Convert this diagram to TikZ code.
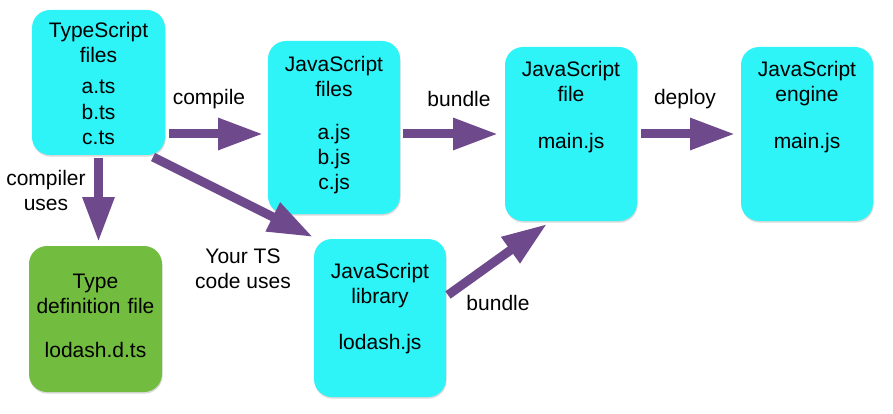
\documentclass[tikz,border=0pt]{standalone}
\usepackage{fontspec}
\setmainfont{Liberation Sans}
\usepackage{tikz}
\usetikzlibrary{arrows.meta,shadows}
\definecolor{boxcyan}{RGB}{46,244,248}
\definecolor{defgreen}{RGB}{114,189,64}
\definecolor{arrowpurple}{RGB}{110,74,140}
\tikzset{
    file box/.style={fill=boxcyan,rounded corners=18pt,inner sep=0pt,outer sep=0pt,
        text width=#1,align=center,anchor=north west,
        drop shadow={shadow xshift=.6pt,shadow yshift=-1.6pt,opacity=.3}},
    file box/.default=132pt,
    fat arrow/.style={-{Triangle[length=45pt,width=30pt]},line width=9pt,draw=arrowpurple},
}
\tikzstyle{every node}=[font=\fontsize{21pt}{25pt}\selectfont]

\begin{document}
\begin{tikzpicture}[x=1pt,y=-1pt]
        \useasboundingbox (0,0) rectangle (893,414);
        \node[file box=133pt, text height=28pt, text depth=117pt] (ts) at (32,10)
            {TypeScript\\files\\[6pt]a.ts\\[1pt]b.ts\\c.ts};
        \node[file box, text height=31pt, text depth=142pt] (jsf) at (268,41)
            {JavaScript\\files\\[18pt]a.js\\b.js\\c.js};
        \node[file box, text height=30pt, text depth=144pt] (main) at (505,47)
            {JavaScript\\file\\[22pt]main.js};
        \node[file box, text height=30pt, text depth=144pt] (eng) at (741,47)
            {JavaScript\\engine\\[22pt]main.js};
        \node[file box=133pt, fill=defgreen, text height=42pt, text depth=104pt] (def) at (29,246)
            {Type\\definition file\\[19pt]lodash.d.ts};
        \node[file box, text height=39pt, text depth=119pt] (lib) at (314,239)
            {JavaScript\\library\\[21pt]lodash.js};
        % arrows between the boxes
        \draw[fat arrow] ([xshift=4pt]ts.east |- main.center) -- ([xshift=-5pt]jsf.west |- main.center);
        \draw[fat arrow] ([xshift=3pt]jsf.east |- main.center) -- ([xshift=-7pt]main.west);
        \draw[fat arrow] ([xshift=4pt]main.east) -- ([xshift=-6pt]eng.west);
        \draw[fat arrow] ([yshift=-3pt]ts.south) -- ([yshift=4pt]ts.south |- def.north);
        \draw[fat arrow] ([shift={(-12pt,-2pt)}]ts.south east) -- ([shift={(-1pt,2pt)}]lib.north west);
        \draw[fat arrow] ([shift={(2pt,23pt)}]lib.east) -- ([shift={(-24pt,-3pt)}]main.south);
        % arrow labels
        \node (compilelbl) at (209,99) {compile};
        \node (bundlelbl) at (459,99) {bundle};
        \node (deploylbl) at (685,99) {deploy};
        \node[align=center] (useslbl) at (46,190.5) {compiler\\uses};
        \node[align=center] (codelbl) at (243,269) {Your TS\\code uses};
        \node (libbundlelbl) at (498,303) {bundle};
    \end{tikzpicture}
\end{document}
